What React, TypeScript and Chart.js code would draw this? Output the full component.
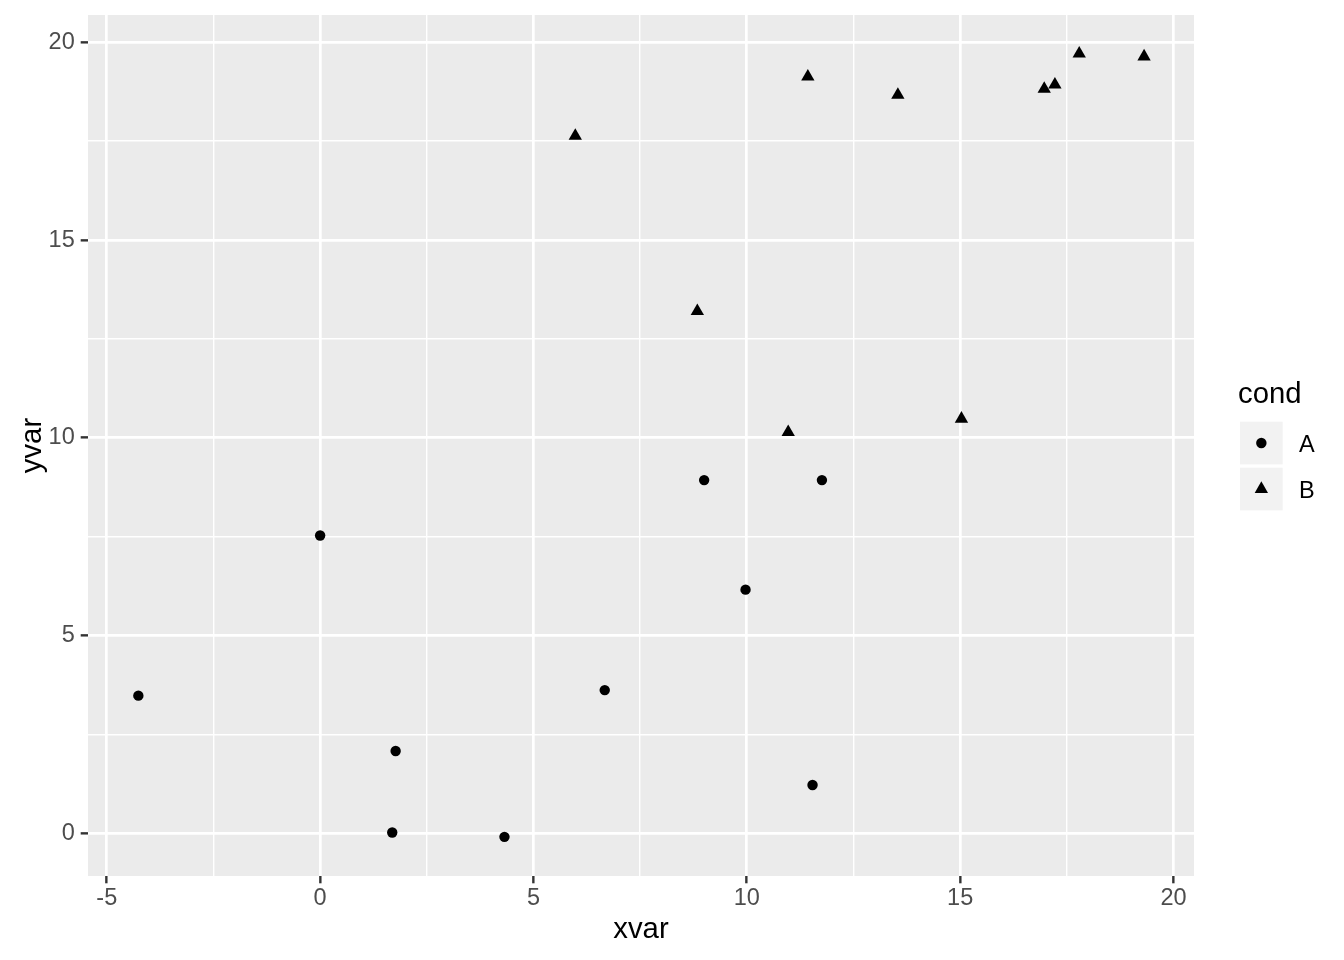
import { useEffect, useRef } from 'react';
import { Chart, registerables } from 'chart.js';

Chart.register(...registerables);

// values
const condLevels = ['A', 'B'];
const xvarA = [-4.26, 0.0, 1.77, 1.69, 4.32, 6.67, 9.0, 9.97, 11.76, 11.54];
const yvarA = [3.48, 7.53, 2.08, 0.02, -0.09, 3.62, 8.93, 6.16, 8.93, 1.22];
const xvarB = [5.98, 8.84, 10.97, 11.43, 13.54, 15.03, 16.97, 17.22, 17.79, 19.31];
const yvarB = [17.63, 13.2, 10.14, 19.13, 18.67, 10.48, 18.82, 18.93, 19.71, 19.64];

// major + minor breaks (ggplot style)
const xBreaks = [-5, -2.5, 0, 2.5, 5, 7.5, 10, 12.5, 15, 17.5, 20];
const yBreaks = [0, 2.5, 5, 7.5, 10, 12.5, 15, 17.5, 20];

const FONT = "'Liberation Sans', Arial, Helvetica, sans-serif";

const isMajor = (v: number | undefined) => v !== undefined && Math.abs(v % 5) < 1e-9;

const panelPlugin = {
  id: 'panelBackground',
  beforeDraw(chart: any) {
    const { ctx, chartArea: a } = chart;
    ctx.save();
    ctx.fillStyle = '#EBEBEB';
    ctx.fillRect(a.left, a.top, a.right - a.left, a.bottom - a.top);
    ctx.restore();
  },
};

const legendPlugin = {
  id: 'condLegend',
  afterDraw(chart: any) {
    const { ctx, chartArea: a } = chart;
    const x0 = a.right + 44;
    const midY = (a.top + a.bottom) / 2;
    ctx.save();
    ctx.fillStyle = '#000000';
    ctx.font = `29.3px ${FONT}`;
    ctx.textBaseline = 'alphabetic';
    ctx.textAlign = 'left';
    ctx.fillText('cond', x0, midY - 42.2);

    const keyX = x0 + 2;
    const keySize = 42.7;
    const keyTops = [midY - 23.8, midY + 22.2];
    condLevels.forEach((lvl, i) => {
      const top = keyTops[i];
      ctx.fillStyle = '#F2F2F2';
      ctx.fillRect(keyX, top, keySize, keySize);
      const cx = keyX + keySize / 2;
      const cy = top + keySize / 2;
      ctx.fillStyle = '#000000';
      ctx.beginPath();
      if (i === 0) {
        ctx.arc(cx, cy, 5.2, 0, Math.PI * 2);
      } else {
        const r = 7.7;
        ctx.moveTo(cx, cy - r);
        ctx.lineTo(cx + r * 0.866, cy + r / 2);
        ctx.lineTo(cx - r * 0.866, cy + r / 2);
        ctx.closePath();
      }
      ctx.fill();
      ctx.font = `23.5px ${FONT}`;
      ctx.fillStyle = '#000000';
      ctx.fillText(lvl, keyX + 59, cy + 8.5);
    });
    ctx.restore();
  },
};

const gridOpts = {
  color: '#FFFFFF',
  lineWidth: (c: any) => (isMajor(c.tick?.value) ? 2.7 : 1.4),
  tickColor: (c: any) => (isMajor(c.tick?.value) ? '#333333' : 'rgba(0,0,0,0)'),
  tickWidth: 2.4,
  tickLength: 7.3,
  drawTicks: true,
};

export default function App() {
  const canvasRef = useRef<HTMLCanvasElement>(null);
  const chartRef = useRef<Chart | null>(null);

  useEffect(() => {
    document.body.style.margin = '0';
    if (!canvasRef.current) return;
    if (chartRef.current) chartRef.current.destroy();

    chartRef.current = new Chart(canvasRef.current, {
      type: 'scatter',
      data: {
        datasets: [
          {
            label: condLevels[0],
            data: xvarA.map((x, i) => ({ x, y: yvarA[i] })),
            pointStyle: 'circle',
            pointRadius: 5.2,
            pointBackgroundColor: '#000000',
            pointBorderWidth: 0,
          },
          {
            label: condLevels[1],
            data: xvarB.map((x, i) => ({ x, y: yvarB[i] })),
            pointStyle: 'triangle',
            pointRadius: 7.7,
            pointBackgroundColor: '#000000',
            pointBorderWidth: 0,
          },
        ],
      },
      options: {
        responsive: false,
        animation: false,
        devicePixelRatio: 1,
        layout: { padding: { left: 0, right: 150, top: 15, bottom: 0 } },
        plugins: {
          legend: { display: false },
          tooltip: { enabled: false },
        },
        scales: {
          x: {
            type: 'linear',
            min: -5.44,
            max: 20.48,
            afterBuildTicks: (axis: any) => {
              axis.ticks = xBreaks.map((v) => ({ value: v }));
            },
            afterFit: (axis: any) => {
              axis.height = 84;
              axis.paddingLeft = 0;
              axis.paddingRight = 0;
            },
            grid: gridOpts as any,
            border: { display: false },
            ticks: {
              autoSkip: false,
              maxRotation: 0,
              padding: 1,
              color: '#4D4D4D',
              font: { family: FONT, size: 23.5 },
              callback: (v: any) => (isMajor(Number(v)) ? String(v) : ''),
            },
            title: {
              display: true,
              text: 'xvar',
              color: '#000000',
              font: { family: FONT, size: 29.3 },
              padding: { top: 0, bottom: 12.6 },
            },
          },
          y: {
            type: 'linear',
            min: -1.08,
            max: 20.69,
            afterBuildTicks: (axis: any) => {
              axis.ticks = yBreaks.map((v) => ({ value: v }));
            },
            afterFit: (axis: any) => {
              axis.width = 88;
              axis.paddingTop = 0;
              axis.paddingBottom = 0;
            },
            grid: gridOpts as any,
            border: { display: false },
            ticks: {
              autoSkip: false,
              padding: 6,
              color: '#4D4D4D',
              font: { family: FONT, size: 23.5 },
              callback: (v: any) => (isMajor(Number(v)) ? String(v) : ''),
            },
            title: {
              display: true,
              text: 'yvar',
              color: '#000000',
              font: { family: FONT, size: 29.3 },
              padding: { top: 15.4, bottom: 0 },
            },
          },
        },
      },
      plugins: [panelPlugin, legendPlugin],
    });

    return () => {
      if (chartRef.current) {
        chartRef.current.destroy();
        chartRef.current = null;
      }
    };
  }, []);

  return (
    <div style={{ width: 1344, height: 960, background: '#FFFFFF' }}>
      <canvas ref={canvasRef} width={1344} height={960} style={{ display: 'block' }}></canvas>
    </div>
  );
}
